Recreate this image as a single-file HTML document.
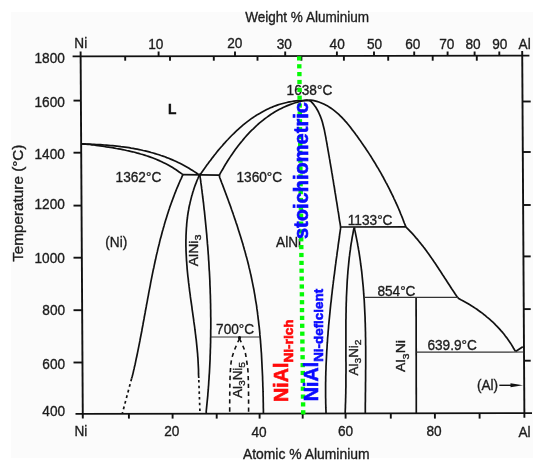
<!DOCTYPE html>
<html><head><meta charset="utf-8"><style>
html,body{margin:0;padding:0;background:#fff;}
svg{display:block;}
text{font-family:"Liberation Sans",Arial,sans-serif;}
</style></head><body>
<svg width="550" height="468" viewBox="0 0 550 468">
<rect x="0" y="0" width="550" height="468" fill="#fff"/>
<rect x="11" y="12" width="522" height="446" fill="#fbfbfb"/>
<g fill="none" stroke="#111" stroke-width="1.9" stroke-linecap="butt">
<path d="M72.6 56.4 L529.4 55.6"/>
<path d="M75.5 413.9 L532 413.1"/>
<path d="M80.6 51.5 L82.8 418.4"/>
<path d="M522.2 51 L524.4 417.7"/>
<path d="M73.5 100.6 L80.9 100.6"/>
<path d="M73.5 152.7 L81.2 152.7"/>
<path d="M73.5 205.6 L81.5 205.6"/>
<path d="M73.5 257.7 L81.8 257.7"/>
<path d="M73.5 310.2 L82.1 310.2"/>
<path d="M73.5 362.5 L82.4 362.5"/>
<path d="M522.5 101.5 L530.7 101.5"/>
<path d="M522.8 152 L530.7 152"/>
<path d="M523.1 205 L530.7 205"/>
<path d="M523.4 256.4 L530.7 256.4"/>
<path d="M523.8 309.1 L530.7 309.1"/>
<path d="M524.1 360.7 L530.7 360.7"/>
<path d="M158.6 51.5 L158.6 56.2"/>
<path d="M235 51.5 L235 56.1"/>
<path d="M285.2 51.5 L285.2 56"/>
<path d="M336.9 51.5 L336.9 55.9"/>
<path d="M374 51.5 L374 55.8"/>
<path d="M414.2 51.5 L414.2 55.8"/>
<path d="M447.6 51.5 L447.6 55.7"/>
<path d="M474.6 51.5 L474.6 55.7"/>
<path d="M499.3 51.5 L499.3 55.6"/>
<path d="M125.2 56.2 L125.2 60.7"/>
<path d="M170 56.2 L170 60.7"/>
<path d="M213.8 56.1 L213.8 60.7"/>
<path d="M257.5 56 L257.5 60.7"/>
<path d="M301.4 56 L301.4 60.7"/>
<path d="M343.9 55.9 L343.9 60.7"/>
<path d="M388.2 55.8 L388.2 60.7"/>
<path d="M432.7 55.7 L432.7 60.7"/>
<path d="M476.8 55.7 L476.8 60.7"/>
<path d="M128.9 413.7 L128.9 418.6"/>
<path d="M172.6 413.7 L172.6 418.6"/>
<path d="M216.7 413.6 L216.7 418.6"/>
<path d="M259.6 413.5 L259.6 418.6"/>
<path d="M302.7 413.5 L302.7 418.6"/>
<path d="M345.6 413.4 L345.6 418.6"/>
<path d="M390.8 413.3 L390.8 418.6"/>
<path d="M434.9 413.2 L434.9 418.6"/>
<path d="M479.6 413.2 L479.6 418.6"/>
</g>
<g fill="none" stroke="#111" stroke-width="1.7" stroke-linejoin="round">
<path d="M81.8 143.8 L83.8 144.1 L85.9 144.1 L87.9 144.2 L90 144.2 L92.1 144.3 L94.1 144.4 L96.2 144.5 L98.2 144.6 L100.3 144.7 L102.4 144.8 L104.4 145 L106.5 145.1 L108.6 145.3 L110.6 145.5 L112.7 145.7 L114.7 145.9 L116.8 146.1 L118.8 146.3 L120.9 146.6 L122.9 146.8 L125 147.1 L127 147.4 L129.1 147.7 L131.1 148.1 L133.1 148.4 L135.2 148.8 L137.2 149.2 L139.2 149.6 L141.2 150 L143.2 150.5 L145.2 150.9 L147.2 151.4 L149.2 151.9 L151.2 152.5 L153.2 153 L155.1 153.6 L157.1 154.2 L159 154.8 L161 155.5 L162.9 156.1 L164.9 156.8 L166.8 157.6 L168.7 158.3 L170.6 159.1 L172.5 159.9 L174.4 160.7 L176.2 161.5 L178.1 162.4 L179.9 163.3 L181.8 164.3 L183.6 165.2 L185.4 166.2 L187.2 167.2 L189 168.3 L190.8 169.4 L192.6 170.5 L194.3 171.6 L196.1 172.8 L197.8 174 L199.6 174.9"/>
<path d="M81.8 143.8 L83.9 143.8 L85.9 144.1 L87.9 144.3 L90 144.5 L92 144.8 L94.1 145 L96.1 145.3 L98.1 145.6 L100.2 145.8 L102.2 146.1 L104.3 146.4 L106.3 146.8 L108.3 147.1 L110.4 147.4 L112.4 147.7 L114.4 148.1 L116.5 148.5 L118.5 148.8 L120.5 149.2 L122.6 149.6 L124.6 150 L126.6 150.5 L128.6 150.9 L130.6 151.4 L132.6 151.8 L134.6 152.3 L136.6 152.9 L138.6 153.4 L140.6 154 L142.6 154.5 L144.5 155.1 L146.5 155.8 L148.4 156.4 L150.4 157.1 L152.3 157.8 L154.2 158.5 L156.1 159.3 L158 160.1 L159.9 160.9 L161.7 161.8 L163.6 162.7 L165.4 163.6 L167.3 164.5 L169.1 165.5 L170.8 166.5 L172.6 167.6 L174.4 168.7 L176.1 169.8 L177.8 171 L179.5 172.2 L181.2 173.4 L182.9 174.6"/>
<path d="M199.6 174.9 L201.1 173.3 L202.2 171.7 L203.4 170 L204.5 168.4 L205.7 166.8 L206.9 165.1 L208.1 163.5 L209.3 161.8 L210.6 160.2 L211.8 158.5 L213.1 156.9 L214.3 155.3 L215.6 153.7 L216.9 152 L218.2 150.4 L219.6 148.8 L220.9 147.3 L222.3 145.7 L223.6 144.1 L225 142.6 L226.4 141 L227.9 139.5 L229.3 138 L230.7 136.5 L232.2 135 L233.7 133.6 L235.2 132.1 L236.7 130.7 L238.2 129.3 L239.8 127.9 L241.3 126.6 L242.9 125.2 L244.5 123.9 L246.1 122.6 L247.7 121.4 L249.4 120.1 L251 118.9 L252.7 117.8 L254.4 116.6 L256.1 115.5 L257.8 114.4 L259.6 113.4 L261.3 112.4 L263.1 111.4 L264.9 110.5 L266.7 109.6 L268.5 108.7 L270.4 107.8 L272.2 107.1 L274.1 106.3 L276 105.6 L277.9 104.9 L279.9 104.3 L281.8 103.7 L283.8 103.2 L285.8 102.7 L287.8 102.2 L289.8 101.8 L291.9 101.5 L293.9 101.2 L296 100.9 L298.1 100.7 L300.3 100.6 L302.4 100.5 L304.6 100.4 L306.8 100.4 L308.6 100.4"/>
<path d="M219.4 175.1 L220.4 173.2 L221.4 171.4 L222.4 169.7 L223.4 168 L224.4 166.2 L225.4 164.5 L226.5 162.8 L227.6 161 L228.7 159.3 L229.8 157.6 L230.9 155.9 L232.1 154.2 L233.3 152.5 L234.5 150.8 L235.7 149.1 L236.9 147.5 L238.2 145.8 L239.4 144.2 L240.7 142.6 L242.1 141 L243.4 139.4 L244.7 137.8 L246.1 136.2 L247.5 134.7 L248.9 133.2 L250.3 131.7 L251.8 130.2 L253.3 128.8 L254.8 127.3 L256.3 125.9 L257.8 124.5 L259.3 123.2 L260.9 121.9 L262.5 120.6 L264.1 119.3 L265.7 118.1 L267.4 116.9 L269 115.7 L270.7 114.5 L272.4 113.4 L274.2 112.3 L275.9 111.3 L277.7 110.3 L279.5 109.3 L281.3 108.4 L283.1 107.5 L284.9 106.7 L286.8 105.9 L288.7 105.1 L290.6 104.4 L292.5 103.7 L294.5 103 L296.4 102.5 L298.4 101.9 L300.4 101.4 L302.4 101 L304.5 100.6 L306.6 100.2 L308.6 100.4"/>
<path d="M308.6 100.4 L310.7 101.1 L312.1 102.6 L313.4 104.1 L314.6 105.7 L315.8 107.3 L316.8 109 L317.8 110.7 L318.7 112.5 L319.5 114.3 L320.3 116.1 L321 118 L321.7 119.9 L322.3 121.8 L322.8 123.8 L323.3 125.7 L323.8 127.7 L324.3 129.7 L324.7 131.8 L325.1 133.8 L325.5 135.8 L325.9 137.9 L326.2 139.9 L326.6 141.9 L327 144 L327.3 146 L327.7 148.1 L328 150.1 L328.4 152.1 L328.7 154.1 L329.1 156.2 L329.4 158.2 L329.8 160.2 L330.1 162.3 L330.5 164.3 L330.8 166.3 L331.2 168.3 L331.5 170.3 L331.8 172.4 L332.2 174.4 L332.5 176.4 L332.8 178.4 L333.2 180.4 L333.5 182.5 L333.8 184.5 L334.2 186.5 L334.5 188.5 L334.8 190.5 L335.1 192.5 L335.5 194.6 L335.8 196.6 L336.1 198.6 L336.4 200.6 L336.8 202.6 L337.1 204.6 L337.4 206.7 L337.7 208.7 L338 210.7 L338.4 212.7 L338.7 214.7 L339 216.8 L339.3 218.8 L339.6 220.8 L340 222.8 L340.3 224.9 L340.6 226.9"/>
<path d="M340.6 226.9 L340.5 228.9 L340.2 231 L339.9 233 L339.6 235 L339.4 237 L339.1 239 L338.8 241 L338.5 243 L338.2 245.1 L338 247.1 L337.7 249.1 L337.4 251.1 L337.1 253.1 L336.9 255.2 L336.6 257.2 L336.3 259.2 L336 261.2 L335.8 263.2 L335.5 265.2 L335.2 267.3 L335 269.3 L334.7 271.3 L334.5 273.3 L334.2 275.3 L333.9 277.4 L333.7 279.4 L333.4 281.4 L333.2 283.4 L332.9 285.5 L332.7 287.5 L332.4 289.5 L332.2 291.5 L332 293.5 L331.7 295.6 L331.5 297.6 L331.3 299.6 L331.1 301.6 L330.8 303.7 L330.6 305.7 L330.4 307.7 L330.2 309.7 L330 311.8 L329.8 313.8 L329.6 315.8 L329.4 317.9 L329.2 319.9 L329 321.9 L328.8 323.9 L328.6 326 L328.5 328 L328.3 330 L328.1 332.1 L328 334.1 L327.8 336.1 L327.6 338.1 L327.5 340.2 L327.4 342.2 L327.2 344.2 L327.1 346.3 L327 348.3 L326.8 350.3 L326.7 352.4 L326.6 354.4 L326.5 356.4 L326.4 358.5 L326.3 360.5 L326.2 362.5 L326.1 364.6 L326 366.6 L326 368.6 L325.9 370.7 L325.8 372.7 L325.8 374.7 L325.7 376.8 L325.7 378.8 L325.7 380.9 L325.6 382.9 L325.6 384.9 L325.6 387 L325.6 389 L325.6 391.1 L325.6 393.1 L325.6 395.1 L325.6 397.2 L325.7 399.2 L325.7 401.3 L325.7 403.3 L325.8 405.3 L325.8 407.4 L325.9 409.4 L326 411.5 L326 413.5"/>
<path d="M308.6 100.4 L310.7 100 L312.8 100.4 L314.8 100.9 L316.8 101.4 L318.8 102 L320.7 102.7 L322.5 103.5 L324.3 104.3 L326.1 105.2 L327.8 106.1 L329.5 107.2 L331.1 108.3 L332.7 109.4 L334.3 110.6 L335.8 111.8 L337.3 113.1 L338.8 114.4 L340.2 115.8 L341.6 117.2 L343 118.7 L344.4 120.1 L345.7 121.7 L347.1 123.2 L348.4 124.8 L349.6 126.3 L350.9 127.9 L352.1 129.6 L353.4 131.2 L354.6 132.8 L355.8 134.5 L357 136.1 L358.2 137.8 L359.4 139.5 L360.6 141.1 L361.7 142.8 L362.9 144.5 L364.1 146.2 L365.2 147.8 L366.3 149.5 L367.5 151.2 L368.6 152.9 L369.7 154.6 L370.8 156.3 L371.9 158.1 L372.9 159.8 L374 161.5 L375.1 163.2 L376.1 165 L377.1 166.7 L378.2 168.4 L379.2 170.2 L380.2 171.9 L381.2 173.7 L382.2 175.5 L383.2 177.2 L384.1 179 L385.1 180.8 L386 182.6 L387 184.3 L387.9 186.1 L388.8 187.9 L389.7 189.7 L390.6 191.5 L391.5 193.3 L392.4 195.2 L393.3 197 L394.1 198.8 L395 200.6 L395.8 202.5 L396.7 204.3 L397.5 206.2 L398.3 208 L399.1 209.9 L399.9 211.7 L400.6 213.6 L401.4 215.5 L402.2 217.4 L402.9 219.2 L403.6 221.1 L404.3 223 L405.1 224.9 L405.9 226.8"/>
<path d="M405.9 226.8 L407.3 228.3 L408.8 229.8 L410.2 231.3 L411.7 232.9 L413.1 234.4 L414.5 236 L415.8 237.6 L417.2 239.1 L418.5 240.7 L419.8 242.4 L421.1 244 L422.4 245.6 L423.7 247.3 L425 248.9 L426.2 250.6 L427.4 252.3 L428.7 254 L429.9 255.7 L431.1 257.4 L432.2 259.1 L433.4 260.8 L434.6 262.6 L435.8 264.3 L436.9 266 L438.1 267.8 L439.2 269.5 L440.4 271.3 L441.5 273 L442.6 274.8 L443.8 276.5 L444.9 278.3 L446.1 280 L447.2 281.8 L448.3 283.5 L449.5 285.3 L450.6 287 L451.7 288.8 L452.9 290.5 L454.1 292.2 L455.2 294 L456.4 295.7 L457.6 297.4"/>
<path d="M457.6 297.4 L459.1 298.8 L460.9 299.8 L462.8 300.7 L464.6 301.7 L466.4 302.7 L468.2 303.8 L469.9 304.8 L471.7 305.9 L473.4 307 L475.1 308.1 L476.9 309.3 L478.5 310.5 L480.2 311.7 L481.9 312.9 L483.5 314.2 L485.1 315.4 L486.7 316.8 L488.3 318.1 L489.8 319.4 L491.4 320.8 L492.9 322.2 L494.4 323.6 L495.8 325.1 L497.3 326.6 L498.7 328.1 L500.1 329.6 L501.4 331.2 L502.8 332.7 L504.1 334.3 L505.3 336 L506.6 337.6 L507.8 339.3 L509 341 L510.2 342.7 L511.3 344.4 L512.4 346.2 L513.4 348 L514.5 349.8 L515.6 351.5"/>
<path d="M515.6 351.5 L522.8 346.8"/>
<path d="M354.4 227.4 L353.7 229.3 L353.3 231.3 L353 233.3 L352.6 235.3 L352.2 237.3 L351.9 239.3 L351.6 241.3 L351.2 243.3 L350.9 245.3 L350.6 247.3 L350.4 249.4 L350.1 251.4 L349.8 253.4 L349.6 255.4 L349.3 257.4 L349.1 259.4 L348.9 261.4 L348.7 263.4 L348.5 265.5 L348.3 267.5 L348.1 269.5 L347.9 271.5 L347.8 273.5 L347.6 275.5 L347.5 277.6 L347.3 279.6 L347.2 281.6 L347.1 283.6 L347 285.6 L346.9 287.7 L346.8 289.7 L346.7 291.7 L346.6 293.7 L346.5 295.8 L346.4 297.8 L346.4 299.8 L346.3 301.9 L346.2 303.9 L346.2 305.9 L346.1 307.9 L346.1 310 L346.1 312 L346 314 L346 316.1 L346 318.1 L345.9 320.1 L345.9 322.2 L345.9 324.2 L345.9 326.2 L345.9 328.3 L345.9 330.3 L345.9 332.3 L345.9 334.4 L345.9 336.4 L345.9 338.4 L345.9 340.5 L345.9 342.5 L345.9 344.5 L345.9 346.6 L345.9 348.6 L345.9 350.6 L345.9 352.7 L345.9 354.7 L345.9 356.7 L345.9 358.8 L345.9 360.8 L346 362.8 L346 364.8 L346 366.9 L346 368.9 L346 370.9 L346 373 L345.9 375 L345.9 377 L345.9 379.1 L345.9 381.1 L345.9 383.1 L345.9 385.1 L345.9 387.2 L345.8 389.2 L345.8 391.2 L345.8 393.3 L345.7 395.3 L345.7 397.3 L345.6 399.3 L345.6 401.4 L345.5 403.4 L345.4 405.4 L345.4 407.4 L345.3 409.4 L345.2 411.5 L345.2 413.5"/>
<path d="M354.6 227.4 L354.6 229.4 L355.1 231.4 L355.5 233.4 L355.9 235.4 L356.3 237.4 L356.7 239.4 L357.1 241.4 L357.5 243.4 L357.8 245.4 L358.2 247.4 L358.5 249.4 L358.9 251.4 L359.2 253.4 L359.5 255.4 L359.8 257.4 L360.1 259.4 L360.4 261.5 L360.6 263.5 L360.9 265.5 L361.2 267.5 L361.4 269.5 L361.7 271.5 L361.9 273.5 L362.1 275.5 L362.3 277.6 L362.5 279.6 L362.7 281.6 L362.9 283.6 L363.1 285.6 L363.3 287.7 L363.4 289.7 L363.6 291.7 L363.7 293.7 L363.9 295.8 L364 297.8 L364.2 299.8 L364.3 301.8 L364.4 303.8 L364.5 305.9 L364.6 307.9 L364.7 309.9 L364.8 312 L364.9 314 L365 316 L365.1 318 L365.1 320.1 L365.2 322.1 L365.3 324.1 L365.3 326.2 L365.4 328.2 L365.4 330.2 L365.5 332.3 L365.5 334.3 L365.5 336.3 L365.6 338.4 L365.6 340.4 L365.6 342.4 L365.6 344.5 L365.7 346.5 L365.7 348.5 L365.7 350.5 L365.7 352.6 L365.7 354.6 L365.7 356.6 L365.7 358.7 L365.7 360.7 L365.7 362.7 L365.7 364.8 L365.7 366.8 L365.7 368.8 L365.6 370.9 L365.6 372.9 L365.6 374.9 L365.6 377 L365.6 379 L365.6 381 L365.5 383.1 L365.5 385.1 L365.5 387.1 L365.5 389.2 L365.5 391.2 L365.4 393.2 L365.4 395.3 L365.4 397.3 L365.4 399.3 L365.4 401.3 L365.3 403.4 L365.3 405.4 L365.3 407.4 L365.3 409.5 L365.3 411.5 L365.3 413.5"/>
<path d="M199.6 174.9 L198.7 176.6 L197.9 178.5 L197 180.5 L196.3 182.4 L195.5 184.4 L194.8 186.3 L194.1 188.3 L193.5 190.2 L192.8 192.2 L192.3 194.2 L191.7 196.1 L191.2 198.1 L190.7 200.1 L190.2 202.1 L189.8 204 L189.3 206 L188.9 208 L188.6 210 L188.2 212 L187.9 214 L187.6 216 L187.4 218 L187.1 220 L186.9 222 L186.7 224 L186.6 226 L186.4 228 L186.3 230 L186.2 232 L186.1 234 L186 236 L186 238 L185.9 240 L185.9 242.1 L185.9 244.1 L185.9 246.1 L186 248.1 L186 250.1 L186.1 252.2 L186.2 254.2 L186.3 256.2 L186.4 258.3 L186.5 260.3 L186.7 262.3 L186.8 264.3 L187 266.4 L187.1 268.4 L187.3 270.4 L187.5 272.5 L187.7 274.5 L187.9 276.5 L188.2 278.6 L188.4 280.6 L188.6 282.7 L188.9 284.7 L189.1 286.7 L189.4 288.8 L189.6 290.8 L189.9 292.8 L190.2 294.9 L190.4 296.9 L190.7 299 L191 301 L191.3 303 L191.6 305.1 L191.9 307.1 L192.1 309.1 L192.4 311.2 L192.7 313.2 L193 315.3 L193.3 317.3 L193.6 319.3 L193.8 321.4 L194.1 323.4 L194.4 325.4 L194.7 327.5 L194.9 329.5 L195.2 331.5 L195.4 333.5 L195.7 335.6 L195.9 337.6 L196.2 339.6 L196.4 341.7 L196.6 343.7 L196.8 345.7 L197 347.7 L197.2 349.7 L197.4 351.8 L197.6 353.8 L197.7 355.8 L197.9 357.8 L198 359.8 L198.1 361.8 L198.2 363.8 L198.3 365.8 L198.4 367.8 L198.5 369.9 L198.5 371.9 L198.5 373.9 L198.6 375.8 L198.8 378"/>
<path d="M199.6 174.9 L200.1 176.9 L200.4 178.9 L200.7 180.9 L200.9 182.9 L201.2 184.9 L201.5 186.9 L201.7 188.9 L202 190.9 L202.2 192.9 L202.5 195 L202.7 197 L203 199 L203.2 201 L203.5 203 L203.7 205 L203.9 207 L204.1 209.1 L204.4 211.1 L204.6 213.1 L204.8 215.1 L205 217.1 L205.2 219.1 L205.4 221.2 L205.6 223.2 L205.8 225.2 L206 227.2 L206.2 229.2 L206.4 231.3 L206.6 233.3 L206.8 235.3 L206.9 237.3 L207.1 239.3 L207.3 241.4 L207.4 243.4 L207.6 245.4 L207.8 247.4 L207.9 249.4 L208.1 251.5 L208.2 253.5 L208.4 255.5 L208.5 257.5 L208.6 259.6 L208.8 261.6 L208.9 263.6 L209 265.6 L209.1 267.7 L209.2 269.7 L209.4 271.7 L209.5 273.7 L209.6 275.8 L209.7 277.8 L209.8 279.8 L209.9 281.8 L209.9 283.9 L210 285.9 L210.1 287.9 L210.2 289.9 L210.2 292 L210.3 294 L210.4 296 L210.4 298 L210.5 300.1 L210.5 302.1 L210.6 304.1 L210.6 306.2 L210.6 308.2 L210.7 310.2 L210.7 312.2 L210.7 314.3 L210.7 316.3 L210.8 318.3 L210.8 320.3 L210.8 322.4 L210.8 324.4 L210.8 326.4 L210.8 328.5 L210.7 330.5 L210.7 332.5 L210.7 334.5 L210.7 336.6 L210.6 338.6 L210.6 340.6 L210.6 342.6 L210.5 344.7 L210.5 346.7 L210.4 348.7 L210.3 350.7 L210.3 352.8 L210.2 354.8 L210.1 356.8 L210.1 358.9 L210 360.9 L209.9 362.9 L209.8 364.9 L209.7 367 L209.6 369 L209.5 371 L209.4 373 L209.2 375.1 L209.1 377.1 L209 379.1 L208.8 381.1 L208.7 383.2 L208.6 385.2 L208.4 387.2 L208.3 389.2 L208.1 391.3 L207.9 393.3 L207.8 395.3 L207.6 397.3 L207.4 399.3 L207.2 401.4 L207 403.4 L206.8 405.4 L206.6 407.4 L206.4 409.4 L206.2 411.5 L206.3 413.5"/>
<path d="M182.9 174.6 L182.1 176.4 L181.3 178.3 L180.4 180.1 L179.6 182 L178.8 183.9 L178 185.8 L177.2 187.6 L176.4 189.5 L175.7 191.4 L174.9 193.3 L174.2 195.2 L173.5 197.1 L172.8 199 L172.1 200.9 L171.4 202.8 L170.7 204.7 L170 206.6 L169.4 208.5 L168.7 210.5 L168.1 212.4 L167.5 214.3 L166.9 216.2 L166.3 218.2 L165.7 220.1 L165.1 222 L164.5 224 L164 225.9 L163.4 227.9 L162.9 229.8 L162.3 231.8 L161.8 233.7 L161.3 235.7 L160.8 237.6 L160.2 239.6 L159.7 241.6 L159.3 243.5 L158.8 245.5 L158.3 247.4 L157.8 249.4 L157.4 251.4 L156.9 253.4 L156.4 255.3 L156 257.3 L155.6 259.3 L155.1 261.3 L154.7 263.2 L154.3 265.2 L153.9 267.2 L153.4 269.2 L153 271.2 L152.6 273.2 L152.2 275.2 L151.8 277.1 L151.4 279.1 L151 281.1 L150.6 283.1 L150.3 285.1 L149.9 287.1 L149.5 289.1 L149.1 291.1 L148.7 293.1 L148.4 295.1 L148 297.1 L147.6 299.1 L147.3 301.1 L146.9 303.1 L146.5 305 L146.2 307 L145.8 309 L145.4 311 L145.1 313 L144.7 315 L144.3 317 L144 319 L143.6 321 L143.2 323 L142.9 325 L142.5 327 L142.1 329 L141.8 331 L141.4 333 L141 335 L140.6 337 L140.2 339 L139.9 340.9 L139.5 342.9 L139.1 344.9 L138.7 346.9 L138.3 348.9 L137.9 350.9 L137.5 352.9 L137.1 354.8 L136.7 356.8 L136.2 358.8 L135.8 360.8 L135.4 362.8 L135 364.7 L134.5 366.7 L134.1 368.7 L133.6 370.6 L133.2 372.6 L132.7 374.6 L132.2 376.5 L131.6 378.5"/>
<path d="M219.4 175.1 L219.6 177.2 L220.3 179 L221 180.9 L221.7 182.8 L222.5 184.7 L223.2 186.6 L223.9 188.5 L224.6 190.4 L225.3 192.3 L226 194.1 L226.7 196 L227.4 197.9 L228.1 199.8 L228.8 201.7 L229.5 203.6 L230.2 205.5 L230.9 207.4 L231.5 209.3 L232.2 211.2 L232.9 213.1 L233.5 215 L234.2 217 L234.8 218.9 L235.5 220.8 L236.1 222.7 L236.8 224.6 L237.4 226.5 L238 228.4 L238.6 230.4 L239.2 232.3 L239.8 234.2 L240.4 236.1 L241 238.1 L241.6 240 L242.2 241.9 L242.8 243.8 L243.3 245.8 L243.9 247.7 L244.4 249.7 L245 251.6 L245.5 253.5 L246 255.5 L246.6 257.4 L247.1 259.4 L247.6 261.3 L248.1 263.3 L248.6 265.2 L249 267.2 L249.5 269.1 L250 271.1 L250.4 273.1 L250.9 275 L251.3 277 L251.7 279 L252.1 280.9 L252.5 282.9 L252.9 284.9 L253.3 286.9 L253.7 288.8 L254.1 290.8 L254.4 292.8 L254.8 294.8 L255.1 296.8 L255.4 298.8 L255.7 300.8 L256.1 302.8 L256.4 304.7 L256.7 306.7 L256.9 308.7 L257.2 310.7 L257.5 312.7 L257.7 314.7 L258 316.8 L258.2 318.8 L258.5 320.8 L258.7 322.8 L258.9 324.8 L259.2 326.8 L259.4 328.8 L259.6 330.8 L259.8 332.8 L259.9 334.9 L260.1 336.9 L260.3 338.9 L260.5 340.9 L260.6 342.9 L260.8 344.9 L260.9 347 L261.1 349 L261.2 351 L261.4 353 L261.5 355 L261.6 357.1 L261.7 359.1 L261.8 361.1 L261.9 363.1 L262 365.1 L262.1 367.2 L262.2 369.2 L262.3 371.2 L262.4 373.2 L262.5 375.2 L262.6 377.3 L262.6 379.3 L262.7 381.3 L262.8 383.3 L262.8 385.3 L262.9 387.3 L263 389.4 L263 391.4 L263.1 393.4 L263.1 395.4 L263.2 397.4 L263.2 399.4 L263.2 401.4 L263.3 403.4 L263.3 405.4 L263.3 407.5 L263.4 409.5 L263.4 411.5 L263.4 413.5"/>
<path d="M182.9 174.6 L219.4 175.1"/>
<path d="M340.6 227 L405.9 226.9"/>
<path d="M416.1 297.3 L416.3 413.5"/>
</g>
<g fill="none" stroke="#333" stroke-width="1.2">
<path d="M364.5 297.3 L457.6 297.3"/>
<path d="M416.3 352.2 L523.5 352"/>
<path d="M210.7 337 L260.2 337"/>
</g>
<g fill="none" stroke="#111" stroke-width="1.7" stroke-dasharray="2.8 3">
<path d="M131.6 378.5 L122.3 413.5"/>
</g>
<g fill="none" stroke="#111" stroke-width="1.7" stroke-dasharray="2.5 3.2">
<path d="M198.8 380 L200 413.5"/>
</g>
<g fill="none" stroke="#111" stroke-width="1.6" stroke-dasharray="4.2 3.6">
<path d="M239.5 338.5 C238.7 340.4 235.8 346.4 234.5 350 C233.2 353.6 232.2 356.3 231.5 360 C230.8 363.7 230.6 367 230.3 372 C230 377 229.9 383.2 229.8 390 C229.7 396.8 229.7 409.2 229.7 413"/>
<path d="M239.5 338.5 C240.3 340.4 243.3 346.4 244.5 350 C245.7 353.6 245.9 356.3 246.5 360 C247.1 363.7 247.7 367 248 372 C248.3 377 248.4 383.2 248.5 390 C248.6 396.8 248.6 409.2 248.6 413"/>
</g>
<circle cx="239.5" cy="337.7" r="1.6" fill="#111"/>
<circle cx="199.6" cy="174.9" r="1.5" fill="#111"/>
<path d="M499.3 385.3 L512 385.3" stroke="#111" stroke-width="1.4" fill="none"/>
<path d="M510.5 383.3 L523 385.3 L510.5 387.3 Z" fill="#111"/>
<text transform="translate(74.3 48.4) scale(0.910 1)" font-size="15" fill="#1c1c1c" stroke="#1c1c1c" stroke-width="0.35">Ni</text>
<text transform="translate(148.2 48.5) scale(0.910 1)" font-size="15" fill="#1c1c1c" stroke="#1c1c1c" stroke-width="0.35">10</text>
<text transform="translate(227.2 48.4) scale(0.910 1)" font-size="15" fill="#1c1c1c" stroke="#1c1c1c" stroke-width="0.35">20</text>
<text transform="translate(276.7 48.5) scale(0.910 1)" font-size="15" fill="#1c1c1c" stroke="#1c1c1c" stroke-width="0.35">30</text>
<text transform="translate(329.6 48.6) scale(0.910 1)" font-size="15" fill="#1c1c1c" stroke="#1c1c1c" stroke-width="0.35">40</text>
<text transform="translate(367 48.6) scale(0.910 1)" font-size="15" fill="#1c1c1c" stroke="#1c1c1c" stroke-width="0.35">50</text>
<text transform="translate(405.2 48.5) scale(0.910 1)" font-size="15" fill="#1c1c1c" stroke="#1c1c1c" stroke-width="0.35">60</text>
<text transform="translate(439.2 48.5) scale(0.910 1)" font-size="15" fill="#1c1c1c" stroke="#1c1c1c" stroke-width="0.35">70</text>
<text transform="translate(465.5 48.5) scale(0.910 1)" font-size="15" fill="#1c1c1c" stroke="#1c1c1c" stroke-width="0.35">80</text>
<text transform="translate(492.2 48.5) scale(0.910 1)" font-size="15" fill="#1c1c1c" stroke="#1c1c1c" stroke-width="0.35">90</text>
<text transform="translate(518.6 48.5) scale(0.910 1)" font-size="15" fill="#1c1c1c" stroke="#1c1c1c" stroke-width="0.35">Al</text>
<text transform="translate(74.4 436.3) scale(0.910 1)" font-size="15" fill="#1c1c1c" stroke="#1c1c1c" stroke-width="0.35">Ni</text>
<text transform="translate(164.2 435.9) scale(0.910 1)" font-size="15" fill="#1c1c1c" stroke="#1c1c1c" stroke-width="0.35">20</text>
<text transform="translate(251.4 436.5) scale(0.910 1)" font-size="15" fill="#1c1c1c" stroke="#1c1c1c" stroke-width="0.35">40</text>
<text transform="translate(338 436) scale(0.910 1)" font-size="15" fill="#1c1c1c" stroke="#1c1c1c" stroke-width="0.35">60</text>
<text transform="translate(426.5 436) scale(0.910 1)" font-size="15" fill="#1c1c1c" stroke="#1c1c1c" stroke-width="0.35">80</text>
<text transform="translate(518.4 436.7) scale(0.910 1)" font-size="15" fill="#1c1c1c" stroke="#1c1c1c" stroke-width="0.35">Al</text>
<text transform="translate(34.5 62.5) scale(0.910 1)" font-size="15" fill="#1c1c1c" stroke="#1c1c1c" stroke-width="0.35">1800</text>
<text transform="translate(34.5 106.9) scale(0.910 1)" font-size="15" fill="#1c1c1c" stroke="#1c1c1c" stroke-width="0.35">1600</text>
<text transform="translate(34.5 158.5) scale(0.910 1)" font-size="15" fill="#1c1c1c" stroke="#1c1c1c" stroke-width="0.35">1400</text>
<text transform="translate(34.5 209.1) scale(0.910 1)" font-size="15" fill="#1c1c1c" stroke="#1c1c1c" stroke-width="0.35">1200</text>
<text transform="translate(34.5 263.1) scale(0.910 1)" font-size="15" fill="#1c1c1c" stroke="#1c1c1c" stroke-width="0.35">1000</text>
<text transform="translate(42.3 315.3) scale(0.910 1)" font-size="15" fill="#1c1c1c" stroke="#1c1c1c" stroke-width="0.35">800</text>
<text transform="translate(42.3 368.5) scale(0.910 1)" font-size="15" fill="#1c1c1c" stroke="#1c1c1c" stroke-width="0.35">600</text>
<text transform="translate(42.3 416.2) scale(0.910 1)" font-size="15" fill="#1c1c1c" stroke="#1c1c1c" stroke-width="0.35">400</text>
<text transform="translate(245.2 21.5) scale(0.903 1)" font-size="15" fill="#1c1c1c" stroke="#1c1c1c" stroke-width="0.35">Weight % Aluminium</text>
<text transform="translate(242.9 458.6) scale(0.927 1)" font-size="15" fill="#1c1c1c" stroke="#1c1c1c" stroke-width="0.35">Atomic % Aluminium</text>
<text transform="translate(22.6 261.8) rotate(-90) scale(1.076 1)" font-size="14.2" fill="#1c1c1c" stroke="#1c1c1c" stroke-width="0.35">Temperature (°C)</text>
<text transform="translate(167.9 114.3) scale(0.950 1)" font-size="14.6" font-weight="bold" fill="#111" stroke="#111" stroke-width="0.35">L</text>
<text transform="translate(115.6 181.7) scale(0.910 1)" font-size="15" fill="#1c1c1c" stroke="#1c1c1c" stroke-width="0.35">1362°C</text>
<text transform="translate(236.5 181.7) scale(0.910 1)" font-size="15" fill="#1c1c1c" stroke="#1c1c1c" stroke-width="0.35">1360°C</text>
<text transform="translate(286.6 95.2) scale(0.910 1)" font-size="15" fill="#1c1c1c" stroke="#1c1c1c" stroke-width="0.35">1638°C</text>
<text transform="translate(105.3 247.3) scale(0.910 1)" font-size="15" fill="#1c1c1c" stroke="#1c1c1c" stroke-width="0.35">(Ni)</text>
<text transform="translate(276.1 247) scale(0.910 1)" font-size="15" fill="#1c1c1c" stroke="#1c1c1c" stroke-width="0.35">AlNi</text>
<text transform="translate(347.8 224.6) scale(0.910 1)" font-size="15" fill="#1c1c1c" stroke="#1c1c1c" stroke-width="0.35">1133°C</text>
<text transform="translate(377.4 295.5) scale(0.910 1)" font-size="15" fill="#1c1c1c" stroke="#1c1c1c" stroke-width="0.35">854°C</text>
<text transform="translate(216.1 334.2) scale(0.910 1)" font-size="15" fill="#1c1c1c" stroke="#1c1c1c" stroke-width="0.35">700°C</text>
<text transform="translate(427.4 350.1) scale(0.910 1)" font-size="15" fill="#1c1c1c" stroke="#1c1c1c" stroke-width="0.35">639.9°C</text>
<text transform="translate(476.9 390) scale(0.910 1)" font-size="15" fill="#1c1c1c" stroke="#1c1c1c" stroke-width="0.35">(Al)</text>
<text transform="translate(198.2 266.2) rotate(-90) scale(1.127 1)" font-size="12.4" fill="#1c1c1c" stroke="#1c1c1c" stroke-width="0.35">AlNi<tspan dy="3.2" font-size="9.6">3</tspan></text>
<text transform="translate(242.1 397.9) rotate(-90) scale(1.078 1)" font-size="12.4" fill="#1c1c1c" stroke="#1c1c1c" stroke-width="0.35">Al<tspan dy="3.2" font-size="9.6">3</tspan><tspan dy="-3.2">Ni</tspan><tspan dy="3.2" font-size="9.6">5</tspan></text>
<text transform="translate(358.1 375.4) rotate(-90) scale(1.076 1)" font-size="12.4" fill="#1c1c1c" stroke="#1c1c1c" stroke-width="0.35">Al<tspan dy="3.2" font-size="9.6">3</tspan><tspan dy="-3.2">Ni</tspan><tspan dy="3.2" font-size="9.6">2</tspan></text>
<text transform="translate(405.3 371.9) rotate(-90) scale(1.134 1)" font-size="12.4" fill="#1c1c1c" stroke="#1c1c1c" stroke-width="0.35">Al<tspan dy="3.2" font-size="9.6">3</tspan><tspan dy="-3.2">Ni</tspan></text>
<g fill="#04fa04"><rect x="297" y="56.3" width="4.4" height="4.2"/><rect x="297.1" y="64.2" width="4.4" height="4.2"/><rect x="297.2" y="72" width="4.4" height="4.2"/><rect x="297.3" y="79.9" width="4.4" height="4.2"/><rect x="297.4" y="87.8" width="4.4" height="4.2"/><rect x="297.4" y="95.6" width="4.4" height="4.2"/><rect x="297.5" y="103.5" width="4.4" height="4.2"/><rect x="297.6" y="111.4" width="4.4" height="4.2"/><rect x="297.7" y="119.2" width="4.4" height="4.2"/><rect x="297.8" y="127.1" width="4.4" height="4.2"/><rect x="297.9" y="134.9" width="4.4" height="4.2"/><rect x="298" y="142.8" width="4.4" height="4.2"/><rect x="298.1" y="150.7" width="4.4" height="4.2"/><rect x="298.2" y="158.5" width="4.4" height="4.2"/><rect x="298.2" y="166.4" width="4.4" height="4.2"/><rect x="298.3" y="174.3" width="4.4" height="4.2"/><rect x="298.4" y="182.1" width="4.4" height="4.2"/><rect x="298.5" y="190" width="4.4" height="4.2"/><rect x="298.6" y="197.9" width="4.4" height="4.2"/><rect x="298.7" y="205.7" width="4.4" height="4.2"/><rect x="298.8" y="213.6" width="4.4" height="4.2"/><rect x="298.9" y="221.5" width="4.4" height="4.2"/><rect x="299" y="229.3" width="4.4" height="4.2"/><rect x="299" y="237.2" width="4.4" height="4.2"/><rect x="299.1" y="245" width="4.4" height="4.2"/><rect x="299.2" y="252.9" width="4.4" height="4.2"/><rect x="299.3" y="260.8" width="4.4" height="4.2"/><rect x="299.4" y="268.6" width="4.4" height="4.2"/><rect x="299.5" y="276.5" width="4.4" height="4.2"/><rect x="299.6" y="284.4" width="4.4" height="4.2"/><rect x="299.7" y="292.2" width="4.4" height="4.2"/><rect x="299.8" y="300.1" width="4.4" height="4.2"/><rect x="299.8" y="308" width="4.4" height="4.2"/><rect x="299.9" y="315.8" width="4.4" height="4.2"/><rect x="300" y="323.7" width="4.4" height="4.2"/><rect x="300.1" y="331.6" width="4.4" height="4.2"/><rect x="300.2" y="339.4" width="4.4" height="4.2"/><rect x="300.3" y="347.3" width="4.4" height="4.2"/><rect x="300.4" y="355.1" width="4.4" height="4.2"/><rect x="300.5" y="363" width="4.4" height="4.2"/><rect x="300.6" y="370.9" width="4.4" height="4.2"/><rect x="300.6" y="378.7" width="4.4" height="4.2"/><rect x="300.7" y="386.6" width="4.4" height="4.2"/><rect x="300.8" y="394.5" width="4.4" height="4.2"/><rect x="300.9" y="402.3" width="4.4" height="4.2"/><rect x="301" y="410.2" width="4.4" height="4.2"/></g>
<text transform="translate(307.8 239.1) rotate(-90) scale(0.983 1)" font-size="20.4" font-weight="bold" fill="#0a0aff" stroke="#0a0aff" stroke-width="0.6">stoichiometric</text>
<text transform="translate(288.2 401.9) rotate(-90) scale(1.010 1)" font-size="19.5" font-weight="bold" fill="#ff0a0a" stroke="#ff0a0a" stroke-width="0.6">NiAl<tspan dy="5" font-size="13.5">Ni-rich</tspan></text>
<text transform="translate(317.7 401.2) rotate(-90) scale(1.009 1)" font-size="19.5" font-weight="bold" fill="#0a0aff" stroke="#0a0aff" stroke-width="0.6">NiAl<tspan dy="5" font-size="13.3">Ni-deficient</tspan></text>
</svg>
</body></html>
